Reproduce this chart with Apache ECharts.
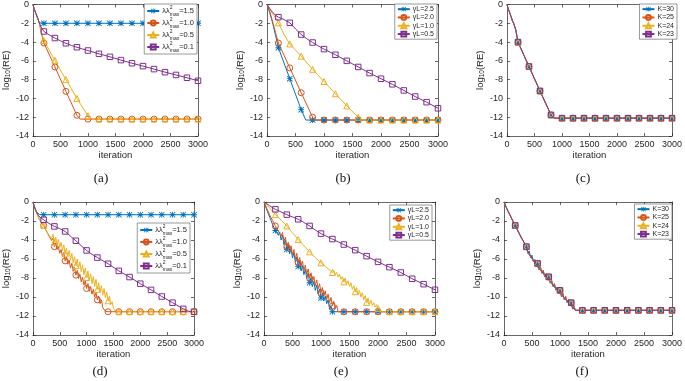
<!DOCTYPE html>
<html><head><meta charset="utf-8">
<script src="https://cdn.jsdelivr.net/npm/echarts@6/dist/echarts.min.js"></script>
<style>html,body{margin:0;padding:0;background:#fff}#c{width:685px;height:381px}</style>
</head><body><div id="c"></div>
<script>
// ---------- tick labels / axis ranges ----------
const xTickMin = 0, xTickMax = 3000, xTickStep = 500;
const yTickMin = -14, yTickMax = 0, yTickStep = 2;
const panelLetters = ['(a)', '(b)', '(c)', '(d)', '(e)', '(f)'];

// ---------- legend labels ----------
const legLam = ['1.5', '1.0', '0.5', '0.1'];
const legGam = ['γL=2.5', 'γL=2.0', 'γL=1.0', 'γL=0.5'];
const legK = ['K=30', 'K=25', 'K=24', 'K=23'];

// ---------- (a) ----------
const A15 = [[0,0],[30,-0.6],[60,-1.05],[90,-1.5],[115,-1.95],[140,-2],[200,-2],[400,-2],[600,-2],[800,-2],[1000,-2],[1200,-2],[1400,-2],[1600,-2],[1800,-2],[2000,-2],[2200,-2],[2400,-2],[2600,-2],[2800,-2],[3000,-2]];
const A10 = [[0,0],[30,-0.6],[60,-1.05],[90,-1.5],[115,-1.95],[150,-2.95],[200,-4.1],[400,-6.65],[600,-9.25],[800,-11.8],[860,-12.2],[1000,-12.2],[1200,-12.2],[1400,-12.2],[1600,-12.2],[1800,-12.2],[2000,-12.2],[2200,-12.2],[2400,-12.2],[2600,-12.2],[2800,-12.2],[3000,-12.2]];
const A05 = [[0,0],[30,-0.6],[60,-1.05],[90,-1.5],[115,-1.95],[150,-2.85],[200,-3.85],[400,-5.95],[600,-8.0],[800,-10.0],[1000,-11.85],[1030,-12.2],[1200,-12.2],[1400,-12.2],[1600,-12.2],[1800,-12.2],[2000,-12.2],[2200,-12.2],[2400,-12.2],[2600,-12.2],[2800,-12.2],[3000,-12.2]];
const A01 = [[0,0],[30,-0.6],[60,-1.05],[90,-1.5],[115,-1.95],[150,-2.4],[200,-2.87],[300,-3.25],[400,-3.57],[500,-3.87],[600,-4.13],[700,-4.36],[800,-4.55],[900,-4.73],[1000,-4.9],[1200,-5.25],[1400,-5.57],[1600,-5.92],[1800,-6.25],[2000,-6.56],[2200,-6.88],[2400,-7.2],[2600,-7.5],[2800,-7.8],[3000,-8.12]];

// ---------- (b) ----------
const B25 = [[0,0],[50,-0.9],[100,-2.0],[150,-3.3],[200,-4.6],[400,-7.9],[600,-11.2],[680,-12.3],[800,-12.3],[1000,-12.3],[1200,-12.3],[1400,-12.3],[1600,-12.3],[1800,-12.3],[2000,-12.3],[2200,-12.3],[2400,-12.3],[2600,-12.3],[2800,-12.3],[3000,-12.3]];
const B20 = [[0,0],[50,-0.8],[100,-1.85],[150,-3.0],[200,-4.1],[400,-6.75],[600,-9.4],[800,-12.0],[830,-12.3],[1000,-12.3],[1200,-12.3],[1400,-12.3],[1600,-12.3],[1800,-12.3],[2000,-12.3],[2200,-12.3],[2400,-12.3],[2600,-12.3],[2800,-12.3],[3000,-12.3]];
const B10 = [[0,0],[50,-0.5],[100,-1.0],[150,-1.45],[200,-1.95],[300,-3.2],[400,-4.2],[500,-4.85],[600,-5.5],[800,-6.9],[1000,-8.2],[1200,-9.5],[1400,-10.8],[1600,-12.0],[1630,-12.3],[1800,-12.3],[2000,-12.3],[2200,-12.3],[2400,-12.3],[2600,-12.3],[2800,-12.3],[3000,-12.3]];
const B05 = [[0,0],[50,-0.45],[100,-0.85],[150,-1.15],[200,-1.35],[300,-1.6],[400,-1.95],[500,-2.6],[600,-3.2],[700,-3.65],[800,-4.05],[900,-4.4],[1000,-4.75],[1200,-5.35],[1400,-6.0],[1600,-6.65],[1800,-7.3],[2000,-7.9],[2200,-8.5],[2400,-9.15],[2600,-9.8],[2800,-10.4],[3000,-11.05]];

// ---------- (c) ----------
const C30 = [[0,0],[25,-0.5],[50,-0.9],[75,-1.3],[100,-1.75],[120,-2.0],[140,-2.15],[160,-2.7],[200,-4.0],[400,-6.6],[600,-9.2],[800,-11.75],[850,-12.1],[1000,-12.1],[1200,-12.1],[1400,-12.1],[1600,-12.1],[1800,-12.1],[2000,-12.1],[2200,-12.1],[2400,-12.1],[2600,-12.1],[2800,-12.1],[3000,-12.1]];
const C25 = [[0,0],[25,-0.5],[50,-0.9],[75,-1.3],[100,-1.75],[120,-2.0],[140,-2.15],[160,-2.7],[200,-4.02],[400,-6.62],[600,-9.22],[800,-11.77],[850,-12.1],[1000,-12.1],[1200,-12.1],[1400,-12.1],[1600,-12.1],[1800,-12.1],[2000,-12.1],[2200,-12.1],[2400,-12.1],[2600,-12.1],[2800,-12.1],[3000,-12.1]];
const C24 = [[0,0],[25,-0.5],[50,-0.9],[75,-1.3],[100,-1.75],[120,-2.0],[140,-2.15],[160,-2.7],[200,-4.01],[400,-6.61],[600,-9.21],[800,-11.76],[850,-12.1],[1000,-12.1],[1200,-12.1],[1400,-12.1],[1600,-12.1],[1800,-12.1],[2000,-12.1],[2200,-12.1],[2400,-12.1],[2600,-12.1],[2800,-12.1],[3000,-12.1]];
const C23 = [[0,0],[25,-0.5],[50,-0.9],[75,-1.3],[100,-1.75],[120,-2.0],[140,-2.15],[160,-2.7],[200,-4.0],[400,-6.6],[600,-9.2],[800,-11.75],[850,-12.1],[1000,-12.1],[1200,-12.1],[1400,-12.1],[1600,-12.1],[1800,-12.1],[2000,-12.1],[2200,-12.1],[2400,-12.1],[2600,-12.1],[2800,-12.1],[3000,-12.1]];

// ---------- (d) ----------
const D15 = [[0,0],[25,-0.45],[50,-0.85],[75,-1.1],[100,-1.25],[125,-1.32],[150,-1.34],[200,-1.34],[400,-1.34],[600,-1.34],[800,-1.34],[1000,-1.34],[1200,-1.34],[1400,-1.34],[1600,-1.34],[1800,-1.34],[2000,-1.34],[2200,-1.34],[2400,-1.34],[2600,-1.34],[2800,-1.34],[3000,-1.34]];
const D10 = [[0,0],[25,-0.45],[50,-0.85],[75,-1.2],[100,-1.55],[125,-1.85],[150,-2.1],[175,-2.3],[200,-2.46],[225,-2.75],[250,-3.05],[275,-3.3],[300,-3.6],[325,-3.5],[350,-4.05],[375,-3.8],[400,-4.7],[425,-4.3],[450,-5.0],[475,-4.7],[500,-5.4],[525,-5.0],[550,-5.75],[575,-5.3],[600,-6.2],[625,-5.8],[650,-6.55],[675,-6.1],[700,-6.95],[725,-6.45],[750,-7.3],[775,-6.9],[800,-7.7],[825,-7.2],[850,-8.05],[875,-7.6],[900,-8.4],[925,-7.9],[950,-8.75],[975,-8.3],[1000,-9.1],[1025,-8.6],[1050,-9.4],[1075,-8.9],[1100,-9.7],[1125,-9.2],[1150,-10.0],[1175,-9.5],[1200,-10.3],[1225,-9.9],[1250,-10.7],[1275,-10.3],[1300,-11.1],[1325,-10.9],[1350,-11.5],[1400,-11.55],[1600,-11.55],[1800,-11.55],[2000,-11.55],[2200,-11.55],[2400,-11.55],[2600,-11.55],[2800,-11.55],[3000,-11.55]];
const D05 = [[0,0],[25,-0.45],[50,-0.85],[75,-1.2],[100,-1.55],[125,-1.85],[150,-2.1],[175,-2.3],[200,-2.46],[225,-2.75],[250,-3.0],[275,-3.25],[300,-3.5],[325,-3.3],[350,-3.85],[375,-3.4],[400,-4.2],[425,-3.7],[450,-4.5],[475,-3.95],[500,-4.8],[525,-4.25],[550,-5.15],[575,-4.5],[600,-5.45],[625,-4.85],[650,-5.75],[675,-5.1],[700,-6.1],[725,-5.4],[750,-6.4],[775,-5.75],[800,-6.7],[825,-6.0],[850,-7.0],[875,-6.3],[900,-7.35],[925,-6.6],[950,-7.65],[975,-6.95],[1000,-7.95],[1025,-7.25],[1050,-8.25],[1075,-7.55],[1100,-8.6],[1125,-7.85],[1150,-8.9],[1175,-8.15],[1200,-9.2],[1225,-8.5],[1250,-9.5],[1275,-8.8],[1300,-9.8],[1325,-9.1],[1350,-10.1],[1375,-9.5],[1400,-10.4],[1425,-9.9],[1450,-10.8],[1475,-10.5],[1500,-11.2],[1525,-11.1],[1550,-11.55],[1600,-11.55],[1800,-11.55],[2000,-11.55],[2200,-11.55],[2400,-11.55],[2600,-11.55],[2800,-11.55],[3000,-11.55]];
const D01 = [[0,0],[25,-0.45],[50,-0.85],[75,-1.15],[100,-1.4],[150,-1.7],[200,-1.87],[300,-2.25],[400,-2.57],[500,-2.8],[600,-3.1],[700,-3.6],[800,-4.08],[900,-4.6],[1000,-5.1],[1100,-5.5],[1200,-5.85],[1400,-6.5],[1600,-7.25],[1800,-7.9],[2000,-8.6],[2200,-9.25],[2400,-9.95],[2600,-10.6],[2800,-11.25],[2900,-11.5],[3000,-11.55]];

// ---------- (e) ----------
const E25 = [[0,0],[50,-0.85],[100,-1.6],[150,-2.35],[200,-3.0],[225,-2.9],[250,-3.5],[275,-3.15],[300,-4.0],[325,-3.5],[350,-4.5],[375,-4.0],[400,-5.0],[425,-4.45],[450,-5.45],[475,-4.9],[500,-5.9],[525,-5.35],[550,-6.35],[575,-5.8],[600,-6.8],[625,-6.25],[650,-7.25],[675,-6.7],[700,-7.65],[725,-7.1],[750,-8.05],[775,-7.5],[800,-8.5],[825,-7.95],[850,-8.9],[875,-8.35],[900,-9.3],[925,-8.75],[950,-9.7],[975,-9.15],[1000,-10.1],[1025,-9.55],[1050,-10.4],[1075,-9.9],[1100,-10.7],[1125,-10.3],[1150,-11.3],[1175,-10.9],[1200,-11.55],[1400,-11.55],[1600,-11.55],[1800,-11.55],[2000,-11.55],[2200,-11.55],[2400,-11.55],[2600,-11.55],[2800,-11.55],[3000,-11.55]];
const E20 = [[0,0],[50,-0.7],[100,-1.35],[150,-1.95],[200,-2.52],[225,-2.5],[250,-3.05],[275,-2.85],[300,-3.6],[325,-3.2],[350,-4.15],[375,-3.7],[400,-4.73],[425,-4.25],[450,-5.15],[475,-4.6],[500,-5.55],[525,-5.0],[550,-6.0],[575,-5.4],[600,-6.4],[625,-5.85],[650,-6.8],[675,-6.25],[700,-7.2],[725,-6.65],[750,-7.6],[775,-7.05],[800,-8.0],[825,-7.45],[850,-8.4],[875,-7.85],[900,-8.8],[925,-8.2],[950,-9.15],[975,-8.6],[1000,-9.55],[1025,-9.0],[1050,-9.9],[1075,-9.35],[1100,-10.25],[1125,-9.7],[1150,-10.6],[1175,-10.05],[1200,-10.95],[1225,-10.45],[1250,-11.25],[1275,-10.9],[1300,-11.55],[1400,-11.55],[1600,-11.55],[1800,-11.55],[2000,-11.55],[2200,-11.55],[2400,-11.55],[2600,-11.55],[2800,-11.55],[3000,-11.55]];
const E10 = [[0,0],[100,-0.65],[200,-1.33],[300,-1.9],[400,-2.52],[500,-3.25],[600,-3.95],[700,-4.6],[800,-5.25],[900,-5.85],[1000,-6.4],[1100,-6.9],[1200,-7.42],[1225,-7.2],[1250,-7.65],[1275,-7.4],[1300,-7.9],[1325,-7.6],[1350,-8.15],[1375,-7.85],[1400,-8.4],[1425,-8.0],[1450,-8.65],[1475,-8.3],[1500,-8.9],[1525,-8.5],[1550,-9.2],[1575,-8.8],[1600,-9.45],[1625,-9.0],[1650,-9.75],[1675,-9.3],[1700,-10.0],[1725,-9.55],[1750,-10.3],[1775,-9.85],[1800,-10.57],[1825,-10.1],[1850,-10.75],[1875,-10.35],[1900,-10.9],[1925,-10.6],[1950,-11.05],[1975,-10.8],[2000,-11.2],[2025,-11.2],[2050,-11.5],[2100,-11.55],[2200,-11.55],[2400,-11.55],[2600,-11.55],[2800,-11.55],[3000,-11.55]];
const E05 = [[0,0],[100,-0.4],[200,-0.77],[300,-1.05],[400,-1.33],[500,-1.57],[600,-1.82],[700,-2.15],[800,-2.52],[900,-2.95],[1000,-3.33],[1200,-3.9],[1400,-4.48],[1600,-5.07],[1800,-5.7],[2000,-6.3],[2200,-6.86],[2400,-7.42],[2600,-8.08],[2800,-8.65],[3000,-9.24]];

// ---------- (f) ----------
const F30 = [[0,0],[50,-0.7],[100,-1.3],[150,-1.9],[200,-2.47],[300,-3.65],[400,-4.7],[425,-5.42],[450,-5.15],[475,-5.88],[500,-5.6],[525,-6.32],[550,-6.04],[575,-6.75],[600,-6.47],[625,-7.15],[650,-6.83],[675,-7.52],[700,-7.2],[725,-7.87],[750,-7.54],[775,-8.21],[800,-7.88],[825,-8.56],[850,-8.24],[875,-8.92],[900,-8.6],[925,-9.28],[950,-8.95],[975,-9.62],[1000,-9.3],[1025,-9.96],[1050,-9.62],[1075,-10.29],[1100,-9.95],[1125,-10.61],[1150,-10.28],[1175,-10.94],[1200,-10.6],[1225,-11.28],[1250,-10.95],[1275,-11.4],[1300,-11.3],[1325,-11.4],[1400,-11.4],[1600,-11.4],[1800,-11.4],[2000,-11.4],[2200,-11.4],[2400,-11.4],[2600,-11.4],[2800,-11.4],[3000,-11.4]];
const F25 = [[0,0],[50,-0.7],[100,-1.3],[150,-1.9],[200,-2.47],[300,-3.65],[400,-4.7],[425,-5.32],[450,-5.15],[475,-5.78],[500,-5.6],[525,-6.22],[550,-6.04],[575,-6.65],[600,-6.47],[625,-7.05],[650,-6.83],[675,-7.42],[700,-7.2],[725,-7.77],[750,-7.54],[775,-8.11],[800,-7.88],[825,-8.46],[850,-8.24],[875,-8.82],[900,-8.6],[925,-9.18],[950,-8.95],[975,-9.52],[1000,-9.3],[1025,-9.86],[1050,-9.62],[1075,-10.19],[1100,-9.95],[1125,-10.51],[1150,-10.28],[1175,-10.84],[1200,-10.6],[1225,-11.18],[1250,-10.95],[1275,-11.4],[1300,-11.3],[1325,-11.4],[1400,-11.4],[1600,-11.4],[1800,-11.4],[2000,-11.4],[2200,-11.4],[2400,-11.4],[2600,-11.4],[2800,-11.4],[3000,-11.4]];
const F24 = [[0,0],[50,-0.7],[100,-1.3],[150,-1.9],[200,-2.47],[300,-3.65],[400,-4.7],[425,-5.27],[450,-5.15],[475,-5.73],[500,-5.6],[525,-6.17],[550,-6.04],[575,-6.6],[600,-6.47],[625,-7.0],[650,-6.83],[675,-7.37],[700,-7.2],[725,-7.72],[750,-7.54],[775,-8.06],[800,-7.88],[825,-8.41],[850,-8.24],[875,-8.77],[900,-8.6],[925,-9.13],[950,-8.95],[975,-9.47],[1000,-9.3],[1025,-9.81],[1050,-9.62],[1075,-10.14],[1100,-9.95],[1125,-10.46],[1150,-10.28],[1175,-10.79],[1200,-10.6],[1225,-11.13],[1250,-10.95],[1275,-11.4],[1300,-11.3],[1325,-11.4],[1400,-11.4],[1600,-11.4],[1800,-11.4],[2000,-11.4],[2200,-11.4],[2400,-11.4],[2600,-11.4],[2800,-11.4],[3000,-11.4]];
const F23 = [[0,0],[50,-0.7],[100,-1.3],[150,-1.9],[200,-2.47],[300,-3.65],[400,-4.7],[425,-5.22],[450,-5.15],[475,-5.68],[500,-5.6],[525,-6.12],[550,-6.04],[575,-6.55],[600,-6.47],[625,-6.95],[650,-6.83],[675,-7.32],[700,-7.2],[725,-7.67],[750,-7.54],[775,-8.01],[800,-7.88],[825,-8.36],[850,-8.24],[875,-8.72],[900,-8.6],[925,-9.08],[950,-8.95],[975,-9.42],[1000,-9.3],[1025,-9.76],[1050,-9.62],[1075,-10.09],[1100,-9.95],[1125,-10.41],[1150,-10.28],[1175,-10.74],[1200,-10.6],[1225,-11.08],[1250,-10.95],[1275,-11.4],[1300,-11.3],[1325,-11.4],[1400,-11.4],[1600,-11.4],[1800,-11.4],[2000,-11.4],[2200,-11.4],[2400,-11.4],[2600,-11.4],[2800,-11.4],[3000,-11.4]];

// ---------- styling / layout ----------
const COLORS = ['#0072BD', '#D95319', '#EDB120', '#7E2F8E'];
const STAR = 'path://M4.3 0 H5.7 V10 H4.3 Z M0 4.3 H10 V5.7 H0 Z M1 0 L10 9 L9 10 L0 1 Z M9 0 L10 1 L1 10 L0 9 Z';
const SYMBOLS = [STAR, 'circle', 'triangle', 'rect'];
const SYMSIZE = [6, 6, 6, 5.5];
const FONT = '"Liberation Sans", Arial, sans-serif';
const AXC = '#262626';

const lamLabel = v => '{t|λλ}{p|2}{b|max}{t|=' + v + '}';
const panels = [
  { data: [A15, A10, A05, A01], labels: legLam.map(lamLabel), grid: { left: 27, top: 3, width: 171, height: 133 }, legend: { right: 488, top: 4 }, lam: true, yGap: 13, lab: [101, 179] },
  { data: [B25, B20, B10, B05], labels: legGam, grid: { left: 267, top: 3, width: 171, height: 133 }, legend: { right: 248, top: 4 }, lam: false, yGap: 17, lab: [343, 179] },
  { data: [C30, C25, C24, C23], labels: legK, grid: { left: 507, top: 3, width: 171, height: 133 }, legend: { right: 8, top: 4 }, lam: false, yGap: 15, lab: [583, 179] },
  { data: [D15, D10, D05, D01], labels: legLam.map(lamLabel), grid: { left: 23, top: 202, width: 171, height: 133 }, legend: { right: 495, top: 223 }, lam: true, yGap: 15, lab: [100, 372] },
  { data: [E25, E20, E10, E05], labels: legGam, grid: { left: 264, top: 202, width: 171, height: 133 }, legend: { right: 253, top: 205 }, lam: false, yGap: 20, lab: [341, 372] },
  { data: [F30, F25, F24, F23], labels: legK, grid: { left: 504, top: 202, width: 170, height: 133 }, legend: { right: 13, top: 204 }, lam: false, yGap: 13, lab: [582, 372] }
];

const grids = [], xAxes = [], yAxes = [], series = [], legends = [], graphics = [];
const nameMap = {};
const axisLine = { show: true, onZero: false, lineStyle: { color: AXC, width: 0.7 } };
const tick = { show: true, inside: true, length: 3, lineStyle: { color: AXC, width: 0.7 } };

panels.forEach((p, pi) => {
  grids.push(Object.assign({ containLabel: false }, p.grid));
  xAxes.push({
    gridIndex: pi, type: 'value', min: xTickMin, max: xTickMax, interval: xTickStep,
    axisLine, axisTick: tick, splitLine: { show: false },
    axisLabel: { fontSize: 9, color: AXC, fontFamily: FONT, margin: 4, formatter: v => String(v) },
    name: 'iteration', nameLocation: 'middle', nameGap: 11,
    nameTextStyle: { fontSize: 9.5, color: AXC, fontFamily: FONT }
  });
  xAxes.push({
    gridIndex: pi, type: 'value', position: 'top', min: xTickMin, max: xTickMax, interval: xTickStep,
    axisLine, axisTick: tick, splitLine: { show: false }, axisLabel: { show: false }
  });
  yAxes.push({
    gridIndex: pi, type: 'value', min: yTickMin, max: yTickMax, interval: yTickStep,
    axisLine, axisTick: tick, splitLine: { show: false },
    axisLabel: { fontSize: 9, color: AXC, fontFamily: FONT, margin: 4, formatter: v => String(v) },
    name: '{n|log}{s|10}{n|(RE)}', nameLocation: 'middle', nameGap: p.yGap, nameRotate: 90,
    nameTextStyle: { fontSize: 9.5, color: AXC, fontFamily: FONT,
      rich: { n: { fontSize: 9.5, color: AXC, fontFamily: FONT, lineHeight: 12 },
              s: { fontSize: 6.5, color: AXC, fontFamily: FONT, verticalAlign: 'bottom', lineHeight: 8 } } }
  });
  yAxes.push({
    gridIndex: pi, type: 'value', position: 'right', min: yTickMin, max: yTickMax, interval: yTickStep,
    axisLine, axisTick: tick, splitLine: { show: false }, axisLabel: { show: false }
  });
  const names = [];
  p.data.forEach((d, i) => {
    const nm = 'p' + pi + 's' + i;
    names.push(nm);
    nameMap[nm] = p.labels[i];
    const c = COLORS[i];
    series.push({
      type: 'line', name: nm, xAxisIndex: pi * 2, yAxisIndex: pi * 2, data: d,
      symbol: SYMBOLS[i], showAllSymbol: true,
      symbolSize: v => (v[0] > 0 && v[0] % 200 === 0) ? SYMSIZE[i] : 0,
      lineStyle: { color: c, width: 1 },
      itemStyle: i === 0 ? { color: c } : { color: 'rgba(255,255,255,0)', borderColor: c, borderWidth: 1 },
      animation: false, silent: true, emphasis: { disabled: true }
    });
  });
  const lh = p.lam ? 12 : 8.3;
  legends.push({
    data: names, orient: 'vertical', right: p.legend.right, top: p.legend.top,
    itemWidth: 12, itemHeight: 6, itemGap: 0, padding: [1, 3, 1, 2],
    backgroundColor: '#fff', borderColor: '#555', borderWidth: 0.6, borderRadius: 0,
    selectedMode: false,
    formatter: n => nameMap[n],
    textStyle: {
      fontSize: 7, color: AXC, fontFamily: FONT, lineHeight: lh, padding: [0, 0, 0, -2],
      rich: {
        t: { fontSize: 7.5, color: AXC, fontFamily: FONT, lineHeight: 12 },
        p: { fontSize: 5, color: AXC, fontFamily: FONT, verticalAlign: 'top', lineHeight: 6, width: 0 },
        b: { fontSize: 5, color: AXC, fontFamily: FONT, verticalAlign: 'bottom', lineHeight: 6 }
      }
    }
  });
  graphics.push({
    type: 'text', x: p.lab[0], y: p.lab[1],
    style: { text: panelLetters[pi], font: '13px "Liberation Serif", "DejaVu Serif", serif', fill: '#111', align: 'center', verticalAlign: 'middle' }
  });
});

const chart = echarts.init(document.getElementById('c'), null, { renderer: 'canvas' });
chart.setOption({
  animation: false,
  backgroundColor: '#fff',
  grid: grids, xAxis: xAxes, yAxis: yAxes, series, legend: legends, graphic: graphics
});
</script></body></html>
